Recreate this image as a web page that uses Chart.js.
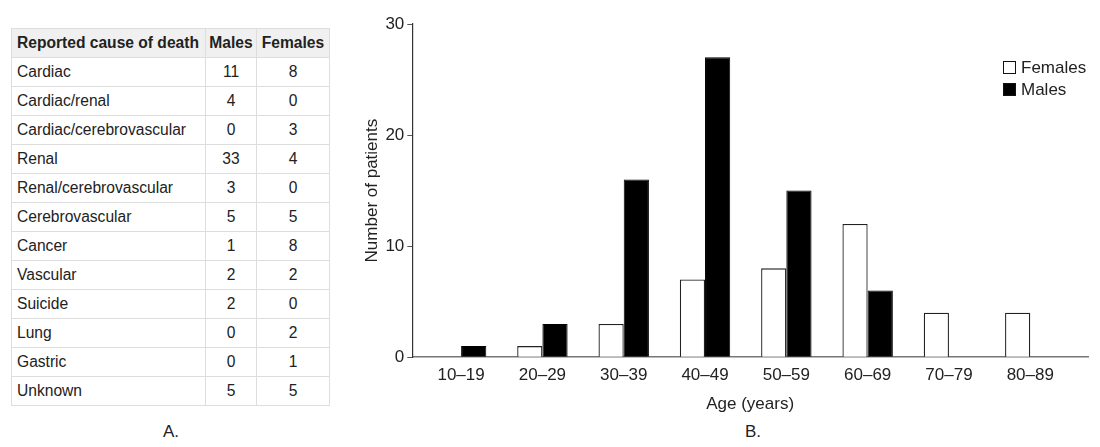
<!DOCTYPE html>
<html>
<head>
<meta charset="utf-8">
<script src="https://cdn.jsdelivr.net/npm/chart.js@4/dist/chart.umd.min.js"></script>
<style>
  body { margin: 0; width: 1100px; height: 447px; background: #fff; font-family: "Liberation Sans", Arial, sans-serif; color: #222; position: relative; overflow: hidden; }
  #cause-table { position: absolute; left: 11px; top: 28px; border-collapse: collapse; font-size: 15.6px; table-layout: fixed; width: 318px; }
  #cause-table th, #cause-table td { border: 1px solid #ddd; height: 28px; padding: 0 5px; white-space: nowrap; }
  #cause-table th { background: #f0f0f0; text-align: left; font-weight: bold; }
  #cause-table td.num { text-align: center; }
  #cause-table th.num { text-align: center; padding: 0 2px; }
  .panel-label { position: absolute; top: 422px; font-size: 17px; }
  #chart-box { position: absolute; left: 362px; top: 0px; width: 738px; height: 415px; }
  #legend { position: absolute; left: 1003px; top: 57px; font-size: 17px; line-height: 22px; color: #222; }
  #legend span.box { display: inline-block; width: 11px; height: 11px; border: 1px solid #111; margin-right: 5px; vertical-align: -1px; }
</style>
</head>
<body>
<table id="cause-table">
  <colgroup><col style="width:194px"><col style="width:51px"><col style="width:73px"></colgroup>
  <tbody id="cause-body"></tbody>
</table>
<div class="panel-label" style="left:163px">A.</div>
<div id="chart-box"><canvas id="ageChart"></canvas></div>
<div id="legend"></div>
<div class="panel-label" style="left:745px">B.</div>
<script>
const causes = ['Cardiac', 'Cardiac/renal', 'Cardiac/cerebrovascular', 'Renal', 'Renal/cerebrovascular', 'Cerebrovascular', 'Cancer', 'Vascular', 'Suicide', 'Lung', 'Gastric', 'Unknown'];
const causeMales = [11, 4, 0, 33, 3, 5, 1, 2, 2, 0, 0, 5];
const causeFemales = [8, 0, 3, 4, 0, 5, 8, 2, 0, 2, 1, 5];

const ageGroups = ['10–19', '20–29', '30–39', '40–49', '50–59', '60–69', '70–79', '80–89'];
const femalesByAge = [0, 1, 3, 7, 8, 12, 4, 4];
const malesByAge = [1, 3, 16, 27, 15, 6, 0, 0];
const yTicks = [0, 10, 20, 30];

// table A
const tbody = document.getElementById('cause-body');
let rows = '<tr><th>Reported cause of death</th><th class="num">Males</th><th class="num">Females</th></tr>';
causes.forEach((c, i) => {
    rows += `<tr><td>${c}</td><td class="num">${causeMales[i]}</td><td class="num">${causeFemales[i]}</td></tr>`;
});
tbody.innerHTML = rows;

// legend for B
document.getElementById('legend').innerHTML =
    '<div><span class="box" style="background:#fff"></span>Females</div>' +
    '<div><span class="box" style="background:#000"></span>Males</div>';

const toPoints = arr => arr.map((v, i) => ({ x: i, y: v }));
const axisFont = { family: 'Liberation Sans', size: 17 };

new Chart(document.getElementById('ageChart').getContext('2d'), {
    type: 'bar',
    data: {
        datasets: [{
            label: 'Females',
            data: toPoints(femalesByAge),
            backgroundColor: '#fff',
            borderColor: '#222',
            borderWidth: 1.3,
            categoryPercentage: 0.62,
            barPercentage: 1.0
        }, {
            label: 'Males',
            data: toPoints(malesByAge),
            backgroundColor: '#000',
            borderColor: '#000',
            borderWidth: 1,
            categoryPercentage: 0.62,
            barPercentage: 1.0
        }]
    },
    options: {
        responsive: true,
        maintainAspectRatio: false,
        animation: false,
        layout: { padding: { top: 24, right: 12, left: 0, bottom: 0 } },
        plugins: { legend: { display: false }, tooltip: { enabled: false } },
        scales: {
            x: {
                type: 'linear',
                offset: false,
                min: -0.6,
                max: 7.71,
                afterBuildTicks: scale => { scale.ticks = ageGroups.map((_, i) => ({ value: i })); },
                ticks: {
                    callback: v => ageGroups[v] ?? '',
                    color: '#222',
                    font: axisFont,
                    padding: 8,
                    maxRotation: 0,
                    autoSkip: false
                },
                grid: { display: false, drawTicks: false },
                border: { display: true, color: '#777', width: 1.5 },
                title: { display: true, text: 'Age (years)', color: '#222', font: axisFont, padding: { top: 1, bottom: 0 } }
            },
            y: {
                min: 0,
                max: 30,
                afterBuildTicks: scale => { scale.ticks = yTicks.map(v => ({ value: v })); },
                ticks: { color: '#222', font: axisFont, padding: 3 },
                grid: { drawOnChartArea: false, drawTicks: true, tickLength: 5, color: '#555' },
                border: { display: true, color: '#333', width: 1.2 },
                title: { display: true, text: 'Number of patients', color: '#222', font: axisFont, padding: { top: 0, bottom: 0 } }
            }
        }
    }
});
</script>
</body>
</html>
